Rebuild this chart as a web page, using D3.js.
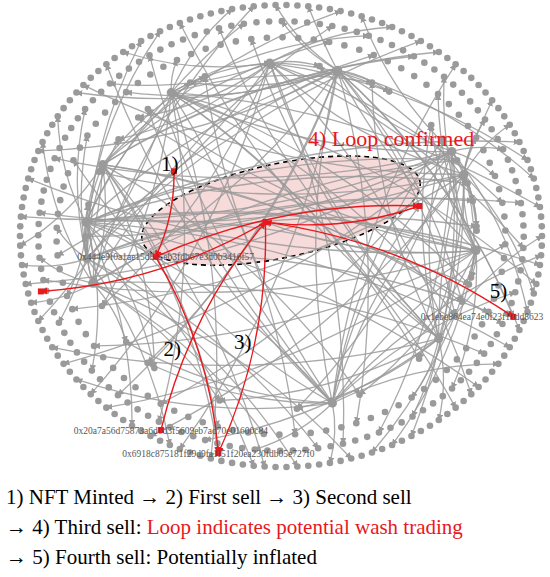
<!DOCTYPE html><html><head><meta charset="utf-8">
<script src="https://cdn.jsdelivr.net/npm/d3@7"></script>
<style>body{margin:0;background:#fff}svg{display:block}</style></head><body>
<svg id="c" width="550" height="577"></svg>
<script>
// ---- data ----
const ringSizes = [150, 120, 90];           // peripheral wallet nodes per ring
const ringRadii = [100, 93, 86];
const hubs = ["H0","H1","H2","H3","H4","H5","H6","H7","H8","H9","H10","H11"];
const hubLeaves = [
 [3,17,40,52,88,101,140,190,230,300,333,12],
 [8,25,61,77,120,165,210,255,290,345,70],
 [14,33,59,95,130,175,222,268,310,350,2],
 [20,44,66,108,147,183,240,281,320,5],
 [29,55,81,115,158,199,247,296,338,27],
 [36,72,99,126,170,215,260,305,355,48],
 [10,47,84,112,144,187,233,277,316,91],
 [22,63,103,135,179,228,273,325,0],
 [39,74,118,151,195,244,286,330,128],
 [6,50,92,138,162,205,252,299,342],
 [31,68,110,154,201,237,283,312,85],
 [18,57,97,123,168,218,264,303,347,142]
];
const midNodes = d3.range(30).map(i => "M" + i);
const midHubs = [[0,3],[1,5],[2,7],[3,9],[4,11],[5,1],[6,2],[7,4],[8,6],[9,8],[10,0],[11,3],[0,6],[1,9],[2,10],[3,7],[4,8],[5,11],[6,0],[7,1],[8,2],[9,4],[10,5],[11,6],[0,8],[2,4],[5,9],[7,10],[1,11],[3,6]];
const hubHub = [[0,4],[1,7],[2,9],[3,11],[5,8],[6,10],[0,2],[4,9],[7,11],[1,3],[8,10],[5,6],[2,6],[9,11],[0,10]];
const special = [
 {id:"mint", u:-41, v:-28, label:"", anchor:"middle", dx:0},
 {id:"A", u:-48, v:9, label:"0x444e9f0a1ae15d5a5eb3fdb67e3d0b3416f57", anchor:"middle", dx:10},
 {id:"B", u:-24, v:94, label:"0x6918c875181f29d9fa1f51f20ea230fdb05e727f0", anchor:"middle", dx:0},
 {id:"C", u:-46, v:84, label:"0x20a7a56d75873a6d6d3f5609eb7ad70e01600c84", anchor:"middle", dx:10},
 {id:"D", u:53, v:-13, label:"", anchor:"middle", dx:0},
 {id:"E", u:89, v:35, label:"0x1ebe864ea74e0f23f10dd8623", anchor:"end", dx:30},
 {id:"F", u:-6, v:-6, label:"", anchor:"middle", dx:0},
 {id:"G", u:-92, v:24, label:"", anchor:"middle", dx:0}
];
const redEdges = [["mint","A"],["A","B"],["F","B"],["A","D"],["D","F"],["F","E"],["F","G"],["C","F"]];
const stepLabels = [{t:"1)",u:-46,v:-28},{t:"2)",u:-45,v:52},{t:"3)",u:-18,v:49},{t:"5)",u:80,v:27}];
const captionLines = [
 [["1) NFT Minted \u2192 2) First sell \u2192 3) Second sell","#000"]],
 [["\u2192 4) Third sell: ","#000"],["Loop indicates potential wash trading","#e8181c"]],
 [["\u2192 5) Fourth sell: Potentially inflated","#000"]]
];

// ---- scales ----
const X = d3.scaleLinear().domain([-100,100]).range([20,542]);
const Y = d3.scaleLinear().domain([-100,100]).range([5,467]);
const svg = d3.select("#c");
const SERIF = "'Liberation Serif','Times New Roman',Times,serif";

const nodes = [];
let li = 0;
ringSizes.forEach((n,r) => { for (let i=0;i<n;i++){ const a = 2*Math.PI*i/n + r*0.37; nodes.push({id:"L"+(li++), fx:ringRadii[r]*Math.cos(a), fy:ringRadii[r]*Math.sin(a)}); }});
hubs.forEach(h => nodes.push({id:h}));
midNodes.forEach(m => nodes.push({id:m}));
special.forEach(s => nodes.push({id:s.id, fx:s.u, fy:s.v, sp:s}));
const links = [];
hubLeaves.forEach((ls,h) => ls.forEach(l => links.push({source:hubs[h], target:"L"+l})));
midHubs.forEach((p,i) => p.forEach(h => links.push({source:hubs[h], target:midNodes[i]})));
hubHub.forEach(([a,b]) => links.push({source:hubs[a], target:hubs[b]}));
["A","D","F","E","B"].forEach((s,i)=>links.push({source:hubs[i*2],target:s}));

const sim = d3.forceSimulation(nodes)
 .force("link", d3.forceLink(links).id(d=>d.id).distance(40).strength(0.03))
 .force("charge", d3.forceManyBody().strength(-40).distanceMax(60))
 .force("x", d3.forceX(0).strength(0.06))
 .force("y", d3.forceY(0).strength(0.06))
 .stop();
for (let i=0;i<300;i++) sim.tick();
nodes.forEach(n=>{ if(n.fx==null){ const r=Math.hypot(n.x,n.y); if(r>75){n.x*=75/r;n.y*=75/r;} }});

svg.append("ellipse").attr("cx",X(0)).attr("cy",Y(-11)).attr("rx",142).attr("ry",47)
 .attr("transform",`rotate(-12,${X(0)},${Y(-11)})`)
 .attr("fill","#f6d3d3").attr("fill-opacity",0.85).attr("stroke","#000").attr("stroke-width",1.6).attr("stroke-dasharray","5,4");

const defs = svg.append("defs");
[["ag","#9a9a9a"],["ar","#e8181c"]].forEach(([id,c])=>defs.append("marker").attr("id",id).attr("viewBox","0 0 10 10").attr("refX",9).attr("refY",5)
 .attr("markerWidth",5).attr("markerHeight",5).attr("orient","auto").append("path").attr("d","M0,0L10,5L0,10z").attr("fill",c));

function arc(s,t,k){const x1=X(s.x),y1=Y(s.y),x2=X(t.x),y2=Y(t.y);const d=Math.hypot(x2-x1,y2-y1)*k;return `M${x1},${y1}A${d},${d} 0 0,1 ${x2},${y2}`;}
svg.append("g").selectAll("path").data(links).join("path").attr("d",d=>arc(d.source,d.target,2.2))
 .attr("fill","none").attr("stroke","#9a9a9a").attr("stroke-opacity",0.85).attr("stroke-width",1.3).attr("marker-end","url(#ag)");
svg.append("g").selectAll("circle").data(nodes.filter(n=>!n.sp)).join("circle")
 .attr("cx",d=>X(d.x)).attr("cy",d=>Y(d.y)).attr("r",d=>d.id[0]==="H"?4.5:3.3).attr("fill","#9a9a9a");

const byId = new Map(nodes.map(n=>[n.id,n]));
svg.append("g").selectAll("path").data(redEdges).join("path").attr("d",d=>arc(byId.get(d[0]),byId.get(d[1]),2.2))
 .attr("fill","none").attr("stroke","#e8181c").attr("stroke-width",1.4).attr("marker-end","url(#ar)");
svg.append("g").selectAll("rect").data(special).join("rect")
 .attr("x",d=>X(d.u)-3).attr("y",d=>Y(d.v)-3).attr("width",6).attr("height",6).attr("fill","#e8181c");
svg.append("g").selectAll("text").data(special.filter(s=>s.label)).join("text")
 .attr("x",d=>X(d.u)+d.dx).attr("y",d=>Y(d.v)+3.5).attr("text-anchor",d=>d.anchor)
 .attr("font-family",SERIF).attr("font-size",9.5).attr("fill","#555").text(d=>d.label);

svg.selectAll(".st").data(stepLabels).join("text").attr("x",d=>X(d.u)).attr("y",d=>Y(d.v))
 .attr("font-family",SERIF).attr("font-size",21).attr("fill","#000").text(d=>d.t);
svg.append("text").attr("x",308).attr("y",146).attr("font-family",SERIF).attr("font-size",22).attr("fill","#e8181c").text("4) Loop confirmed");

const cap = svg.append("g");
captionLines.forEach((ln,i)=>{const t=cap.append("text").attr("x",6).attr("y",504+i*30).attr("font-family",SERIF).attr("font-size",21);
 ln.forEach(([s,c])=>t.append("tspan").attr("fill",c).text(s));});
</script></body></html>
